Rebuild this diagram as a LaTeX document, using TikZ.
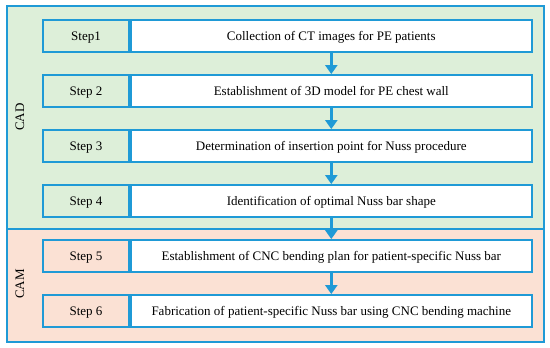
\documentclass[tikz,border=0pt]{standalone}
\usepackage{fontspec}
\setmainfont{Liberation Serif}
\usetikzlibrary{arrows.meta, positioning}
\definecolor{stepblue}{HTML}{1F9AD6}
\definecolor{cadgreen}{HTML}{DDEFD9}
\definecolor{camred}{HTML}{FBE1D4}

\begin{document}
\begin{tikzpicture}[
  x=1pt, y=-1pt,
  font=\fontsize{13}{15}\selectfont,
  region/.style={draw=stepblue, line width=1.8pt, anchor=north west, inner sep=0pt},
  tag/.style={draw=stepblue, line width=1.8pt, minimum width=86pt,
              minimum height=32pt, inner sep=0pt, text height=1.9ex, text depth=0.1ex},
  task/.style={draw=stepblue, line width=1.8pt, fill=white, minimum width=401pt,
               minimum height=32pt, inner sep=0pt, text height=1.9ex, text depth=0.1ex},
  arrow/.style={-{Triangle[width=12pt, length=9pt]}, line width=3.4pt, draw=stepblue}
]
\useasboundingbox (0,0) rectangle (550,348);

%% Regions
\node[region, fill=cadgreen, minimum width=537pt, minimum height=223pt] (cad) at (6,5) {};
\node[region, fill=camred, minimum width=537pt, minimum height=113pt] (cam) at (6,228) {};
\node[rotate=90] (cadlbl) at (20,117) {CAD};
\node[rotate=90] (camlbl) at (20,284) {CAM};

%% CAD steps
\node[tag, fill=cadgreen] (s1) at (86,36)  {Step1};
\node[tag, fill=cadgreen] (s2) at (86,91)  {Step 2};
\node[tag, fill=cadgreen] (s3) at (86,146) {Step 3};
\node[tag, fill=cadgreen] (s4) at (86,201) {Step 4};
\node[task, right=0pt of s1] (t1) {Collection of CT images for PE patients};
\node[task, right=0pt of s2] (t2) {Establishment of 3D model for PE chest wall};
\node[task, right=0pt of s3] (t3) {Determination of insertion point for Nuss procedure};
\node[task, right=0pt of s4] (t4) {Identification of optimal Nuss bar shape};

%% CAM steps
\node[tag, fill=camred] (s5) at (86,256) {Step 5};
\node[tag, fill=camred] (s6) at (86,311) {Step 6};
\node[task, right=0pt of s5] (t5) {Establishment of CNC bending plan for patient-specific Nuss bar};
\node[task, right=0pt of s6] (t6) {Fabrication of patient-specific Nuss bar using CNC bending machine};

\draw[arrow] (t1) -- (t2);
\draw[arrow] (t2) -- (t3);
\draw[arrow] (t3) -- (t4);
\draw[arrow] (t4) -- (t5);
\draw[arrow] (t5) -- (t6);

\end{tikzpicture}
\end{document}
